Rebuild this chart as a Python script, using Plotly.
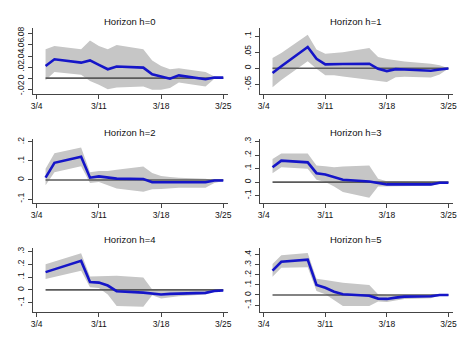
import plotly.graph_objects as go

dates = ["2020-03-05", "2020-03-06", "2020-03-09", "2020-03-10", "2020-03-11",
         "2020-03-12", "2020-03-13", "2020-03-16", "2020-03-17", "2020-03-18",
         "2020-03-19", "2020-03-20", "2020-03-23", "2020-03-24", "2020-03-25"]

titles = ["Horizon h=0", "Horizon h=1", "Horizon h=2", "Horizon h=3", "Horizon h=4", "Horizon h=5"]

irf_h0 = [0.022, 0.034, 0.028, 0.032, 0.024, 0.016, 0.021, 0.019, 0.007, 0.003, -0.001, 0.005, -0.002, 0.001, 0.001]
up_h0 = [0.052, 0.058, 0.052, 0.068, 0.058, 0.052, 0.060, 0.052, 0.032, 0.022, 0.016, 0.018, 0.011, 0.003, 0.001]
lo_h0 = [-0.004, 0.011, 0.006, -0.005, -0.012, -0.020, -0.017, -0.015, -0.021, -0.021, -0.018, -0.008, -0.015, -0.001, 0.0]

irf_h1 = [-0.015, 0.006, 0.066, 0.029, 0.012, 0.013, 0.013, 0.014, -0.002, -0.009, -0.003, -0.004, -0.008, -0.004, -0.001]
up_h1 = [0.032, 0.047, 0.104, 0.058, 0.045, 0.047, 0.050, 0.063, 0.035, 0.029, 0.024, 0.021, 0.014, 0.009, 0.0]
lo_h1 = [-0.059, -0.037, 0.022, -0.002, -0.022, -0.022, -0.026, -0.035, -0.038, -0.043, -0.028, -0.027, -0.029, -0.020, -0.001]

irf_h2 = [0.012, 0.090, 0.122, 0.012, 0.019, 0.014, 0.007, 0.005, -0.012, -0.012, -0.012, -0.012, -0.012, -0.003, -0.003]
up_h2 = [0.059, 0.140, 0.171, 0.041, 0.047, 0.047, 0.053, 0.071, 0.036, 0.021, 0.016, 0.012, 0.007, -0.002, -0.003]
lo_h2 = [-0.028, 0.041, 0.072, -0.016, -0.010, -0.028, -0.045, -0.062, -0.048, -0.047, -0.043, -0.041, -0.041, -0.016, -0.005]

irf_h3 = [0.110, 0.159, 0.146, 0.066, 0.056, 0.037, 0.017, 0.005, -0.007, -0.017, -0.017, -0.017, -0.017, -0.005, -0.005]
up_h3 = [0.170, 0.212, 0.212, 0.122, 0.117, 0.110, 0.115, 0.122, 0.024, 0.007, 0.006, 0.005, 0.005, 0.0, -0.002]
lo_h3 = [0.066, 0.110, 0.098, 0.017, 0.0, -0.032, -0.073, -0.115, -0.032, -0.032, -0.027, -0.027, -0.027, -0.012, -0.006]

irf_h4 = [0.139, 0.161, 0.227, 0.062, 0.057, 0.034, -0.010, -0.021, -0.026, -0.036, -0.031, -0.028, -0.023, -0.008, -0.005]
up_h4 = [0.200, 0.222, 0.286, 0.105, 0.105, 0.105, 0.110, 0.097, 0.003, -0.005, -0.005, -0.005, -0.005, 0.0, -0.002]
lo_h4 = [0.085, 0.101, 0.150, 0.021, 0.015, -0.036, -0.126, -0.131, -0.041, -0.067, -0.057, -0.049, -0.036, -0.010, -0.006]

irf_h5 = [0.243, 0.330, 0.352, 0.099, 0.072, 0.033, 0.007, -0.007, -0.036, -0.039, -0.026, -0.016, -0.013, 0.0, 0.0]
up_h5 = [0.309, 0.395, 0.418, 0.161, 0.148, 0.132, 0.122, 0.099, 0.007, 0.0, 0.0, 0.007, 0.0, 0.003, 0.002]
lo_h5 = [0.181, 0.270, 0.276, 0.039, 0.007, -0.053, -0.109, -0.109, -0.066, -0.069, -0.053, -0.039, -0.033, -0.007, -0.003]

irfs = [irf_h0, irf_h1, irf_h2, irf_h3, irf_h4, irf_h5]
ups = [up_h0, up_h1, up_h2, up_h3, up_h4, up_h5]
los = [lo_h0, lo_h1, lo_h2, lo_h3, lo_h4, lo_h5]

xtick_vals = ["2020-03-04", "2020-03-11", "2020-03-18", "2020-03-25"]
xtick_text = ["3/4", "3/11", "3/18", "3/25"]

ytick_vals = [
    [-0.02, 0, 0.02, 0.04, 0.06, 0.08],
    [-0.05, 0, 0.05, 0.1],
    [-0.1, 0, 0.1, 0.2],
    [-0.1, 0, 0.1, 0.2, 0.3],
    [-0.1, 0, 0.1, 0.2, 0.3],
    [-0.1, 0, 0.1, 0.2, 0.3, 0.4],
]
ytick_text = [
    ["-.02", "0", ".02", ".04", ".06", ".08"],
    ["-.05", "0", ".05", ".1"],
    ["-.1", "0", ".1", ".2"],
    ["-.1", "0", ".1", ".2", ".3"],
    ["-.1", "0", ".1", ".2", ".3"],
    ["-.1", "0", ".1", ".2", ".3", ".4"],
]
y_ranges = [[-0.029, 0.091], [-0.081, 0.126], [-0.122, 0.216], [-0.156, 0.320], [-0.175, 0.329], [-0.172, 0.469]]

W, H = 474, 345
col_px = [(31, 229), (261, 457)]
row_px = [(26, 93), (138, 203), (248, 313)]
title_y_px = [20, 132, 240]

FONT = "Liberation Sans, Arial, sans-serif"
BLUE = "#1515c8"
BAND = "#c6c6c6"
ZERO = "#5a5a5a"

fig = go.Figure()
annotations = []
layout = {}
for i in range(6):
    r, c = divmod(i, 2)
    n = i + 1
    xa = "x" if n == 1 else f"x{n}"
    ya = "y" if n == 1 else f"y{n}"
    fig.add_trace(go.Scatter(x=dates, y=ups[i], mode="lines", line=dict(width=0, color=BAND),
                             showlegend=False, hoverinfo="skip", xaxis=xa, yaxis=ya))
    fig.add_trace(go.Scatter(x=dates, y=los[i], mode="lines", line=dict(width=0, color=BAND),
                             fill="tonexty", fillcolor=BAND, showlegend=False, hoverinfo="skip",
                             xaxis=xa, yaxis=ya))
    fig.add_trace(go.Scatter(x=dates, y=[0] * len(dates), mode="lines", line=dict(width=1.6, color=ZERO),
                             showlegend=False, xaxis=xa, yaxis=ya))
    fig.add_trace(go.Scatter(x=dates, y=irfs[i], mode="lines", line=dict(width=2.6, color=BLUE),
                             showlegend=False, xaxis=xa, yaxis=ya))
    x0, x1 = col_px[c]
    y0, y1 = row_px[r]
    layout["xaxis" if n == 1 else f"xaxis{n}"] = dict(
        domain=[x0 / W, x1 / W], anchor=ya, type="date",
        range=["2020-03-03 13:00", "2020-03-25 13:00"],
        tickmode="array", tickvals=xtick_vals, ticktext=xtick_text,
        showgrid=False, zeroline=False, showline=True, linecolor="#444", linewidth=1,
        ticks="outside", ticklen=4, tickcolor="#444", tickfont=dict(size=8.5, color="#111", family=FONT),
    )
    layout["yaxis" if n == 1 else f"yaxis{n}"] = dict(
        domain=[1 - y1 / H, 1 - y0 / H], anchor=xa, range=y_ranges[i],
        tickmode="array", tickvals=ytick_vals[i], ticktext=ytick_text[i], tickangle=-90,
        showgrid=False, zeroline=False, showline=True, linecolor="#444", linewidth=1,
        ticks="outside", ticklen=4, tickcolor="#444", tickfont=dict(size=8.5, color="#111", family=FONT),
    )
    annotations.append(dict(text=titles[i], x=(x0 + x1) / 2 / W, y=1 - title_y_px[r] / H,
                            xref="paper", yref="paper", showarrow=False, xanchor="center", yanchor="middle",
                            font=dict(size=9.5, color="#111", family=FONT)))

fig.update_layout(width=W, height=H, margin=dict(l=0, r=0, t=0, b=0),
                  paper_bgcolor="white", plot_bgcolor="white",
                  annotations=annotations, **layout)
fig.write_html("out.html")
